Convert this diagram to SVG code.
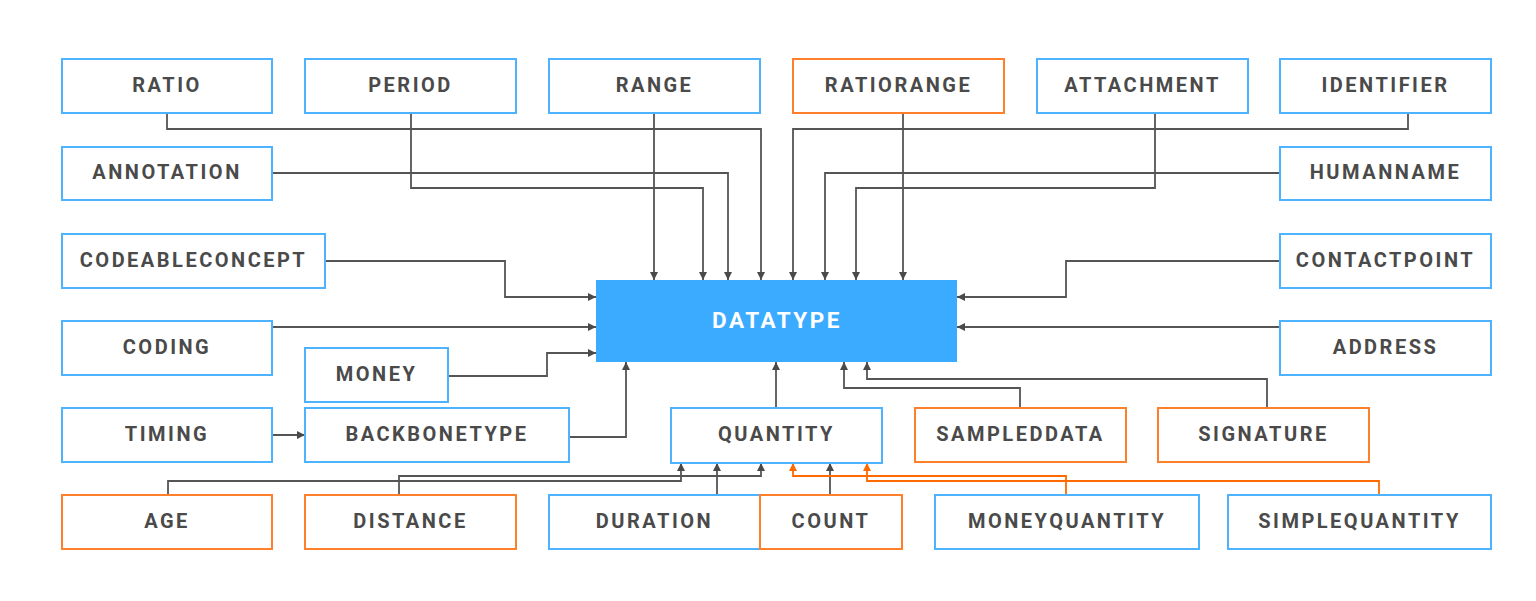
<svg xmlns="http://www.w3.org/2000/svg" width="1536" height="601" viewBox="0 0 1536 601">
<style>
.b{fill:#fff;stroke:#4db3ff;stroke-width:2}
.o{fill:#fff;stroke:#ff7f2a;stroke-width:2}
.t{font-family:Roboto,"Liberation Sans",sans-serif;font-weight:700;font-size:20px;letter-spacing:2.5px;fill:#4a4a4a;text-anchor:middle}
.c{fill:none;stroke:#555;stroke-width:1.8}
.co{fill:none;stroke:#ff6a00;stroke-width:1.8}
</style>
<defs>
<marker id="a" viewBox="0 0 10 10" refX="10" refY="5" markerWidth="8" markerHeight="8" markerUnits="userSpaceOnUse" orient="auto"><path d="M0,0 L10,5 L0,10 z" fill="#4a4a4a"/></marker>
<marker id="ao" viewBox="0 0 10 10" refX="10" refY="5" markerWidth="8" markerHeight="8" markerUnits="userSpaceOnUse" orient="auto"><path d="M0,0 L10,5 L0,10 z" fill="#ff6a00"/></marker>
</defs>
<rect width="1536" height="601" fill="#fff"/>
<g id="connectors">
<path class="c" d="M167,113 V129 H761 V280" marker-end="url(#a)"/>
<path class="c" d="M411,113 V188 H703 V280" marker-end="url(#a)"/>
<path class="c" d="M272,173 H728 V280" marker-end="url(#a)"/>
<path class="c" d="M654,113 V280" marker-end="url(#a)"/>
<path class="c" d="M1408,113 V129 H793 V280" marker-end="url(#a)"/>
<path class="c" d="M903,113 V280" marker-end="url(#a)"/>
<path class="c" d="M1280,173 H825 V280" marker-end="url(#a)"/>
<path class="c" d="M1155,113 V188 H856 V280" marker-end="url(#a)"/>
<path class="c" d="M325,261 H505 V297 H596" marker-end="url(#a)"/>
<path class="c" d="M1280,261 H1066 V297 H957" marker-end="url(#a)"/>
<path class="c" d="M1280,327 H957" marker-end="url(#a)"/>
<path class="c" d="M272,327 H596" marker-end="url(#a)"/>
<path class="c" d="M448,376 H547 V353 H596" marker-end="url(#a)"/>
<path class="c" d="M272,435 H305" marker-end="url(#a)"/>
<path class="c" d="M569,437 H626 V362" marker-end="url(#a)"/>
<path class="c" d="M776,408 V362" marker-end="url(#a)"/>
<path class="c" d="M1020,408 V388 H844 V362" marker-end="url(#a)"/>
<path class="c" d="M1267,408 V379 H867 V362" marker-end="url(#a)"/>
<path class="c" d="M168,495 V481 H681 V463" marker-end="url(#a)"/>
<path class="c" d="M399,495 V476 H761 V463" marker-end="url(#a)"/>
<path class="c" d="M717,495 V463" marker-end="url(#a)"/>
<path class="c" d="M830,495 V463" marker-end="url(#a)"/>
<path class="co" d="M1066,495 V476 H793 V463" marker-end="url(#ao)"/>
<path class="co" d="M1379,495 V481 H867 V463" marker-end="url(#ao)"/>
</g>
<g id="datatype"><rect x="596" y="280" width="361" height="82" fill="#3aabff"/><text class="t" x="777" y="328" style="fill:#fff;font-size:22.5px">DATATYPE</text></g>
<g id="ratio"><rect class="b" x="62" y="59" width="210" height="54"/><text class="t" x="167" y="92">RATIO</text></g>
<g id="period"><rect class="b" x="305" y="59" width="211" height="54"/><text class="t" x="410.5" y="92">PERIOD</text></g>
<g id="range"><rect class="b" x="549" y="59" width="211" height="54"/><text class="t" x="654.5" y="92">RANGE</text></g>
<g id="ratiorange"><rect class="o" x="793" y="59" width="211" height="54"/><text class="t" x="898.5" y="92">RATIORANGE</text></g>
<g id="attachment"><rect class="b" x="1037" y="59" width="211" height="54"/><text class="t" x="1142.5" y="92">ATTACHMENT</text></g>
<g id="identifier"><rect class="b" x="1280" y="59" width="211" height="54"/><text class="t" x="1385.5" y="92">IDENTIFIER</text></g>
<g id="annotation"><rect class="b" x="62" y="147" width="210" height="53"/><text class="t" x="167" y="179">ANNOTATION</text></g>
<g id="humanname"><rect class="b" x="1280" y="147" width="211" height="53"/><text class="t" x="1385.5" y="179">HUMANNAME</text></g>
<g id="codeableconcept"><rect class="b" x="62" y="234" width="263" height="54"/><text class="t" x="193.5" y="267">CODEABLECONCEPT</text></g>
<g id="contactpoint"><rect class="b" x="1280" y="234" width="211" height="54"/><text class="t" x="1385.5" y="267">CONTACTPOINT</text></g>
<g id="coding"><rect class="b" x="62" y="321" width="210" height="54"/><text class="t" x="167" y="354">CODING</text></g>
<g id="address"><rect class="b" x="1280" y="321" width="211" height="54"/><text class="t" x="1385.5" y="354">ADDRESS</text></g>
<g id="money"><rect class="b" x="305" y="348" width="143" height="54"/><text class="t" x="376.5" y="381">MONEY</text></g>
<g id="timing"><rect class="b" x="62" y="408" width="210" height="54"/><text class="t" x="167" y="441">TIMING</text></g>
<g id="backbonetype"><rect class="b" x="305" y="408" width="264" height="54"/><text class="t" x="437" y="441">BACKBONETYPE</text></g>
<g id="quantity"><rect class="b" x="671" y="408" width="211" height="55"/><text class="t" x="776.5" y="441">QUANTITY</text></g>
<g id="sampleddata"><rect class="o" x="915" y="408" width="211" height="54"/><text class="t" x="1020.5" y="441">SAMPLEDDATA</text></g>
<g id="signature"><rect class="o" x="1158" y="408" width="211" height="54"/><text class="t" x="1263.5" y="441">SIGNATURE</text></g>
<g id="age"><rect class="o" x="62" y="495" width="210" height="54"/><text class="t" x="167" y="528">AGE</text></g>
<g id="distance"><rect class="o" x="305" y="495" width="211" height="54"/><text class="t" x="410.5" y="528">DISTANCE</text></g>
<g id="duration"><rect class="b" x="549" y="495" width="211" height="54"/><text class="t" x="654.5" y="528">DURATION</text></g>
<g id="count"><rect class="o" x="760" y="495" width="142" height="54"/><text class="t" x="831" y="528">COUNT</text></g>
<g id="moneyquantity"><rect class="b" x="935" y="495" width="264" height="54"/><text class="t" x="1067" y="528">MONEYQUANTITY</text></g>
<g id="simplequantity"><rect class="b" x="1228" y="495" width="263" height="54"/><text class="t" x="1359.5" y="528">SIMPLEQUANTITY</text></g>
</svg>
